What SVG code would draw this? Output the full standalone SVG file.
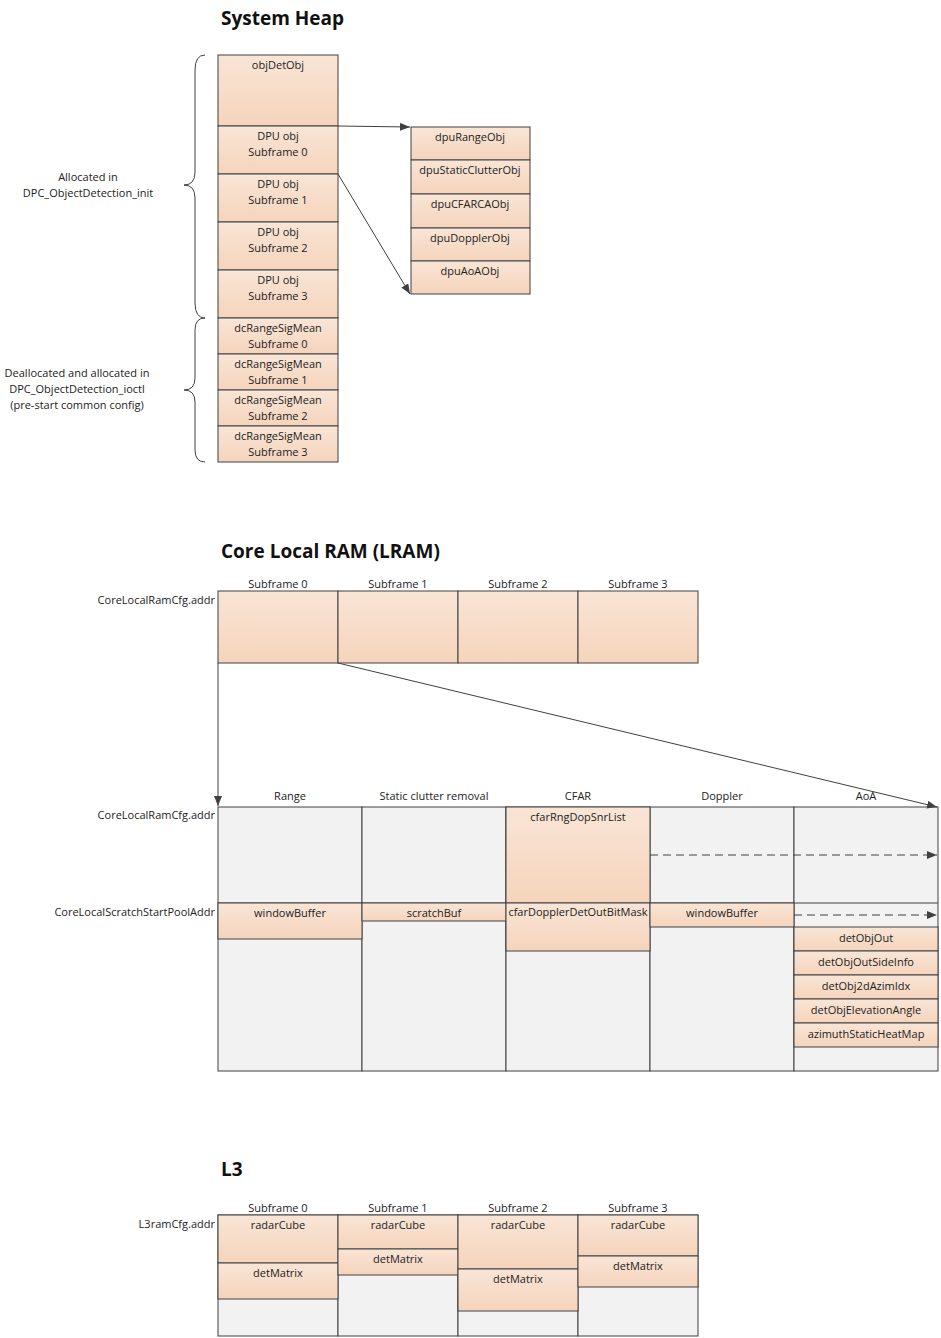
<svg xmlns="http://www.w3.org/2000/svg" width="941" height="1338" viewBox="0 0 941 1338">
<defs>
<linearGradient id="pg" x1="0" y1="0" x2="0" y2="1"><stop offset="0" stop-color="#f9e5d6"/><stop offset="1" stop-color="#f5d4bc"/></linearGradient>
<marker id="ah" markerWidth="10" markerHeight="8" refX="10" refY="4" orient="auto" markerUnits="userSpaceOnUse"><path d="M0,0 L10,4 L0,8 z" fill="#404040"/></marker>
<style>
.p{fill:url(#pg);stroke:#404040;stroke-width:1}
.g{fill:#f2f2f2;stroke:#404040;stroke-width:1}
.t{font-family:"Open Sans","Liberation Sans",sans-serif;font-size:11px;fill:#222;text-anchor:middle}
.l{font-family:"Open Sans","Liberation Sans",sans-serif;font-size:11px;fill:#222;text-anchor:end}
.h{font-family:"Open Sans","Liberation Sans",sans-serif;font-size:19px;font-weight:bold;fill:#111}
.c{fill:none;stroke:#404040;stroke-width:1}
</style>
</defs>
<rect width="941" height="1338" fill="#fff"/>
<text class="h" x="221" y="25">System Heap</text>
<text class="h" x="221" y="558">Core Local RAM (LRAM)</text>
<text class="h" x="221" y="1176">L3</text>

<g id="heap">
<rect class="p" x="218" y="55" width="120" height="71"/><text class="t" x="278" y="69">objDetObj</text>
<rect class="p" x="218" y="126" width="120" height="48"/><text class="t" x="278" y="140">DPU obj</text><text class="t" x="278" y="156">Subframe 0</text>
<rect class="p" x="218" y="174" width="120" height="48"/><text class="t" x="278" y="188">DPU obj</text><text class="t" x="278" y="204">Subframe 1</text>
<rect class="p" x="218" y="222" width="120" height="48"/><text class="t" x="278" y="236">DPU obj</text><text class="t" x="278" y="252">Subframe 2</text>
<rect class="p" x="218" y="270" width="120" height="48"/><text class="t" x="278" y="284">DPU obj</text><text class="t" x="278" y="300">Subframe 3</text>
<rect class="p" x="218" y="318" width="120" height="36"/><text class="t" x="278" y="332">dcRangeSigMean</text><text class="t" x="278" y="348">Subframe 0</text>
<rect class="p" x="218" y="354" width="120" height="36"/><text class="t" x="278" y="368">dcRangeSigMean</text><text class="t" x="278" y="384">Subframe 1</text>
<rect class="p" x="218" y="390" width="120" height="36"/><text class="t" x="278" y="404">dcRangeSigMean</text><text class="t" x="278" y="420">Subframe 2</text>
<rect class="p" x="218" y="426" width="120" height="36"/><text class="t" x="278" y="440">dcRangeSigMean</text><text class="t" x="278" y="456">Subframe 3</text>
</g>
<g id="dpu">
<rect class="p" x="411" y="127" width="119" height="33"/><text class="t" x="470" y="141">dpuRangeObj</text>
<rect class="p" x="411" y="160" width="119" height="34"/><text class="t" x="470" y="174">dpuStaticClutterObj</text>
<rect class="p" x="411" y="194" width="119" height="34"/><text class="t" x="470" y="208">dpuCFARCAObj</text>
<rect class="p" x="411" y="228" width="119" height="33"/><text class="t" x="470" y="242">dpuDopplerObj</text>
<rect class="p" x="411" y="261" width="119" height="33"/><text class="t" x="470" y="275">dpuAoAObj</text>
</g>
<g id="braces">
<path class="c" stroke="#888" d="M205,55 Q195,55 195,70 L195,172 Q195,185 184,185 Q195,185 195,198 L195,303 Q195,318 205,318"/>
<path class="c" stroke="#888" d="M205,318 Q195,318 195,330 L195,378 Q195,390 184,390 Q195,390 195,402 L195,450 Q195,462 205,462"/>
<text class="t" x="88" y="181">Allocated in</text><text class="t" x="88" y="197">DPC_ObjectDetection_init</text>
<text class="t" x="77" y="377">Deallocated and allocated in</text><text class="t" x="77" y="393">DPC_ObjectDetection_ioctl</text><text class="t" x="77" y="409">(pre-start common config)</text>
</g>

<g id="lram-top">
<text class="l" x="215" y="604">CoreLocalRamCfg.addr</text>
<rect class="p" x="218" y="591" width="120" height="72"/><text class="t" x="278" y="588">Subframe 0</text>
<rect class="p" x="338" y="591" width="120" height="72"/><text class="t" x="398" y="588">Subframe 1</text>
<rect class="p" x="458" y="591" width="120" height="72"/><text class="t" x="518" y="588">Subframe 2</text>
<rect class="p" x="578" y="591" width="120" height="72"/><text class="t" x="638" y="588">Subframe 3</text>
</g>
<g id="lram">
<text class="l" x="215" y="819">CoreLocalRamCfg.addr</text>
<text class="l" x="215" y="916">CoreLocalScratchStartPoolAddr</text>
<rect class="g" x="218" y="807" width="144" height="264"/>
<rect class="g" x="362" y="807" width="144" height="264"/>
<rect class="g" x="506" y="807" width="144" height="264"/>
<rect class="g" x="650" y="807" width="144" height="264"/>
<rect class="g" x="794" y="807" width="144" height="264"/>
<line class="c" x1="218" y1="903" x2="938" y2="903"/>
<text class="t" x="290" y="800">Range</text><text class="t" x="434" y="800">Static clutter removal</text><text class="t" x="578" y="800">CFAR</text><text class="t" x="722" y="800">Doppler</text><text class="t" x="866" y="800">AoA</text>
<rect class="p" x="218" y="903" width="144" height="36"/><text class="t" x="290" y="917">windowBuffer</text>
<rect class="p" x="362" y="903" width="144" height="18"/><text class="t" x="434" y="917">scratchBuf</text>
<rect class="p" x="506" y="807" width="144" height="96"/><text class="t" x="578" y="821">cfarRngDopSnrList</text>
<rect class="p" x="506" y="903" width="144" height="48"/><text class="t" x="578" y="916">cfarDopplerDetOutBitMask</text>
<rect class="p" x="650" y="903" width="144" height="24"/><text class="t" x="722" y="917">windowBuffer</text>
<rect class="p" x="794" y="927" width="144" height="24"/><text class="t" x="866" y="942">detObjOut</text>
<rect class="p" x="794" y="951" width="144" height="24"/><text class="t" x="866" y="966">detObjOutSideInfo</text>
<rect class="p" x="794" y="975" width="144" height="24"/><text class="t" x="866" y="990">detObj2dAzimIdx</text>
<rect class="p" x="794" y="999" width="144" height="24"/><text class="t" x="866" y="1014">detObjElevationAngle</text>
<rect class="p" x="794" y="1023" width="144" height="24"/><text class="t" x="866" y="1038">azimuthStaticHeatMap</text>
</g>

<g id="l3">
<text class="l" x="215" y="1228">L3ramCfg.addr</text>
<rect class="g" x="218" y="1215" width="120" height="121"/>
<rect class="g" x="338" y="1215" width="120" height="121"/>
<rect class="g" x="458" y="1215" width="120" height="121"/>
<rect class="g" x="578" y="1215" width="120" height="121"/>
<text class="t" x="278" y="1212">Subframe 0</text><text class="t" x="398" y="1212">Subframe 1</text><text class="t" x="518" y="1212">Subframe 2</text><text class="t" x="638" y="1212">Subframe 3</text>
<rect class="p" x="218" y="1215" width="120" height="48"/><text class="t" x="278" y="1229">radarCube</text>
<rect class="p" x="218" y="1263" width="120" height="36"/><text class="t" x="278" y="1277">detMatrix</text>
<rect class="p" x="338" y="1215" width="120" height="34"/><text class="t" x="398" y="1229">radarCube</text>
<rect class="p" x="338" y="1249" width="120" height="26"/><text class="t" x="398" y="1263">detMatrix</text>
<rect class="p" x="458" y="1215" width="120" height="54"/><text class="t" x="518" y="1229">radarCube</text>
<rect class="p" x="458" y="1269" width="120" height="42"/><text class="t" x="518" y="1283">detMatrix</text>
<rect class="p" x="578" y="1215" width="120" height="41"/><text class="t" x="638" y="1229">radarCube</text>
<rect class="p" x="578" y="1256" width="120" height="31"/><text class="t" x="638" y="1270">detMatrix</text>
</g>

<g id="connectors">
<line class="c" x1="338" y1="126" x2="410" y2="127" marker-end="url(#ah)"/>
<line class="c" x1="338" y1="174" x2="410" y2="294" marker-end="url(#ah)"/>
<line class="c" x1="218" y1="663" x2="218" y2="806" marker-end="url(#ah)"/>
<line class="c" x1="338" y1="663" x2="937" y2="807" marker-end="url(#ah)"/>
<line class="c" x1="650" y1="855" x2="937" y2="855" stroke-dasharray="8,5" marker-end="url(#ah)"/>
<line class="c" x1="794" y1="915" x2="937" y2="915" stroke-dasharray="8,5" marker-end="url(#ah)"/>
</g>
</svg>
